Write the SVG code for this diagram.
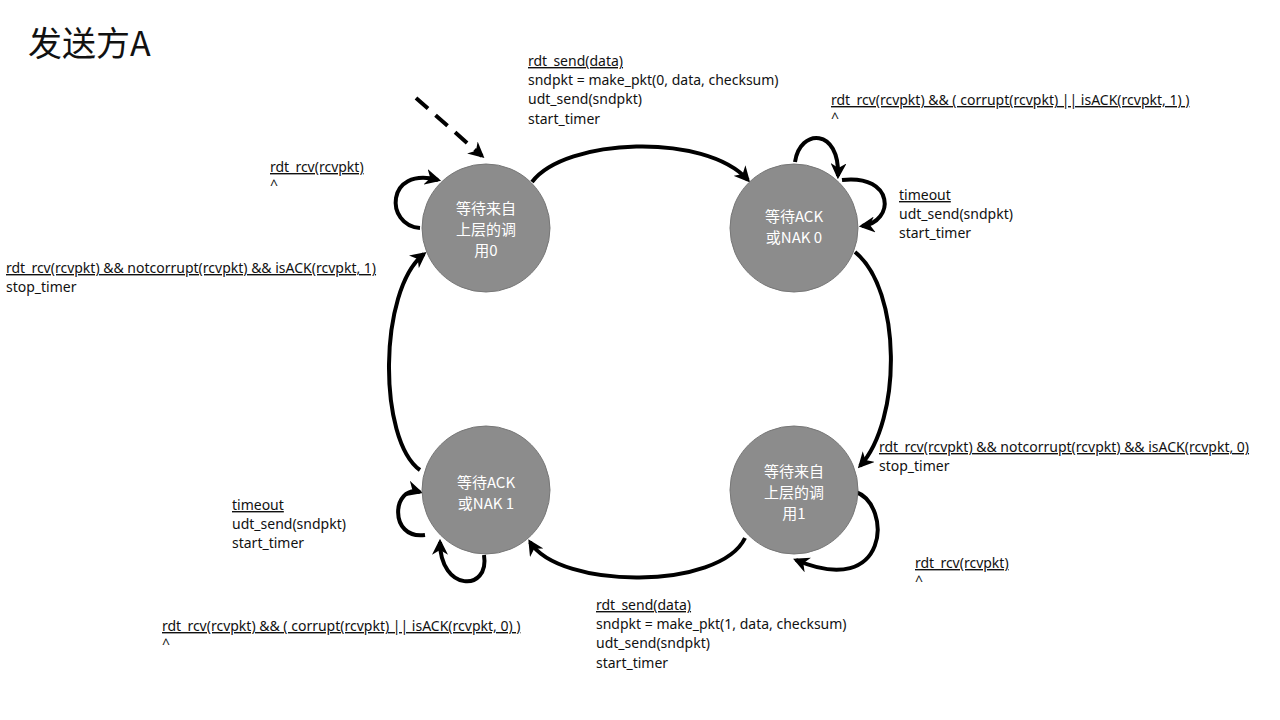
<svg xmlns="http://www.w3.org/2000/svg" width="1280" height="720" viewBox="0 0 1280 720">
<style>
.n{fill:#8c8c8c;stroke:#777;stroke-width:1}
.nt{fill:#fff;font-family:"Noto Sans CJK SC","Noto Sans",sans-serif;font-size:15px;text-anchor:middle}
.t{fill:#111;font-family:"Noto Sans","Noto Sans CJK SC",sans-serif;font-size:14px}
.c{fill:none;stroke:#000;stroke-width:4}
.u{text-decoration:underline}
</style>
<defs><marker id="a" viewBox="0 0 10 10" refX="8" refY="5" markerWidth="4" markerHeight="4" orient="auto"><path d="M0,0 L10,5 L0,10 L3,5 z" fill="#000"/></marker></defs>
<rect width="1280" height="720" fill="#fff"/>
<text x="28" y="56" style="font-family:'Noto Sans CJK SC',sans-serif;font-size:34px;fill:#111">发送方A</text>
<g id="connectors">
<path class="c" d="M416,98 L482,156" stroke-dasharray="16,10" marker-end="url(#a)"/>
<path class="c" d="M420,228 C385,226 385,166 438,180" marker-end="url(#a)"/>
<path class="c" d="M532,182 C565,138 705,132 748,180" marker-end="url(#a)"/>
<path class="c" d="M795,162 C800,128 840,128 838,176" marker-end="url(#a)"/>
<path class="c" d="M842,180 C895,174 895,222 862,226" marker-end="url(#a)"/>
<path class="c" d="M855,252 C902,290 902,420 860,466" marker-end="url(#a)"/>
<path class="c" d="M856,492 C892,505 890,600 796,560" marker-end="url(#a)"/>
<path class="c" d="M745,538 C720,590 560,590 530,542" marker-end="url(#a)"/>
<path class="c" d="M484,555 C490,592 440,592 440,542" marker-end="url(#a)"/>
<path class="c" d="M425,535 C388,540 392,484 420,492" marker-end="url(#a)"/>
<path class="c" d="M420,470 C378,440 378,290 424,254" marker-end="url(#a)"/>
</g>
<g id="s0"><circle class="n" cx="486" cy="228" r="64"/><text class="nt" x="486" y="214">等待来自</text><text class="nt" x="486" y="235">上层的调</text><text class="nt" x="486" y="256">用0</text></g>
<g id="s1"><circle class="n" cx="794" cy="228" r="64"/><text class="nt" x="794" y="222">等待ACK</text><text class="nt" x="794" y="243">或NAK 0</text></g>
<g id="s2"><circle class="n" cx="794" cy="490" r="64"/><text class="nt" x="794" y="477">等待来自</text><text class="nt" x="794" y="498">上层的调</text><text class="nt" x="794" y="519">用1</text></g>
<g id="s3"><circle class="n" cx="486" cy="490" r="64"/><text class="nt" x="486" y="488">等待ACK</text><text class="nt" x="486" y="509">或NAK 1</text></g>
<g id="labels" class="t">
<text x="528" y="66" class="t u">rdt_send(data)</text>
<text x="528" y="85" class="t">sndpkt = make_pkt(0, data, checksum)</text>
<text x="528" y="104" class="t">udt_send(sndpkt)</text>
<text x="528" y="124" class="t">start_timer</text>
<text x="831" y="105" class="t u">rdt_rcv(rcvpkt) &amp;&amp; ( corrupt(rcvpkt) || isACK(rcvpkt, 1) )</text>
<text x="831" y="123" class="t">^</text>
<text x="270" y="172" class="t u">rdt_rcv(rcvpkt)</text>
<text x="270" y="190" class="t">^</text>
<text x="899" y="200" class="t u">timeout</text>
<text x="899" y="219" class="t">udt_send(sndpkt)</text>
<text x="899" y="238" class="t">start_timer</text>
<text x="6" y="273" class="t u">rdt_rcv(rcvpkt) &amp;&amp; notcorrupt(rcvpkt) &amp;&amp; isACK(rcvpkt, 1)</text>
<text x="6" y="292" class="t">stop_timer</text>
<text x="879" y="452" class="t u">rdt_rcv(rcvpkt) &amp;&amp; notcorrupt(rcvpkt) &amp;&amp; isACK(rcvpkt, 0)</text>
<text x="879" y="471" class="t">stop_timer</text>
<text x="232" y="510" class="t u">timeout</text>
<text x="232" y="529" class="t">udt_send(sndpkt)</text>
<text x="232" y="548" class="t">start_timer</text>
<text x="915" y="568" class="t u">rdt_rcv(rcvpkt)</text>
<text x="915" y="586" class="t">^</text>
<text x="596" y="610" class="t u">rdt_send(data)</text>
<text x="596" y="629" class="t">sndpkt = make_pkt(1, data, checksum)</text>
<text x="596" y="648" class="t">udt_send(sndpkt)</text>
<text x="596" y="668" class="t">start_timer</text>
<text x="162" y="631" class="t u">rdt_rcv(rcvpkt) &amp;&amp; ( corrupt(rcvpkt) || isACK(rcvpkt, 0) )</text>
<text x="162" y="649" class="t">^</text>
</g>
</svg>
